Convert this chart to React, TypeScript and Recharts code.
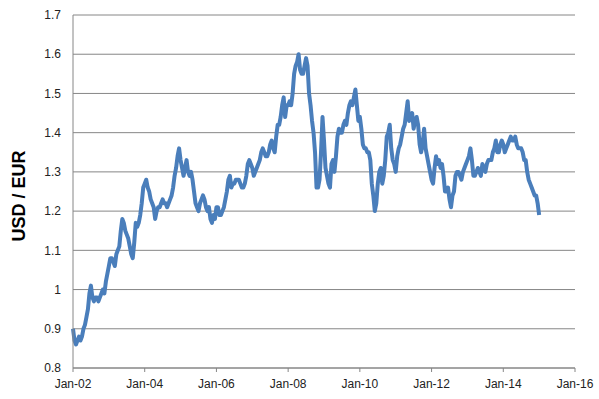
import { CartesianGrid, Line, LineChart, XAxis, YAxis } from "recharts";

// USD per EUR, two readings per month (1st and 16th)
const y2002 = [0.9, 0.87, 0.86, 0.87, 0.88, 0.87, 0.88, 0.9, 0.91, 0.93, 0.95, 0.99, 1.01, 0.98, 0.97, 0.98, 0.98, 0.97, 0.98, 0.99, 1.0, 0.99, 1.02, 1.04];
const y2003 = [1.06, 1.08, 1.08, 1.07, 1.06, 1.09, 1.1, 1.11, 1.15, 1.18, 1.17, 1.15, 1.14, 1.13, 1.11, 1.09, 1.08, 1.12, 1.17, 1.16, 1.17, 1.19, 1.22, 1.26];
const y2004 = [1.27, 1.28, 1.26, 1.25, 1.23, 1.22, 1.21, 1.18, 1.2, 1.21, 1.21, 1.22, 1.23, 1.22, 1.22, 1.21, 1.22, 1.23, 1.24, 1.26, 1.29, 1.31, 1.34, 1.36];
const y2005 = [1.33, 1.31, 1.29, 1.31, 1.33, 1.3, 1.29, 1.3, 1.28, 1.25, 1.22, 1.21, 1.2, 1.22, 1.23, 1.24, 1.23, 1.21, 1.2, 1.21, 1.18, 1.17, 1.19, 1.18];
const y2006 = [1.21, 1.21, 1.19, 1.19, 1.2, 1.21, 1.23, 1.25, 1.28, 1.29, 1.26, 1.27, 1.27, 1.28, 1.28, 1.28, 1.27, 1.26, 1.26, 1.27, 1.29, 1.32, 1.33, 1.32];
const y2007 = [1.31, 1.29, 1.3, 1.31, 1.32, 1.33, 1.35, 1.36, 1.35, 1.34, 1.34, 1.35, 1.37, 1.38, 1.36, 1.35, 1.39, 1.42, 1.42, 1.44, 1.47, 1.49, 1.44, 1.47];
const y2008 = [1.47, 1.48, 1.47, 1.5, 1.55, 1.57, 1.58, 1.6, 1.56, 1.55, 1.55, 1.57, 1.59, 1.57, 1.5, 1.47, 1.43, 1.4, 1.35, 1.26, 1.26, 1.28, 1.35, 1.44];
const y2009 = [1.38, 1.31, 1.29, 1.27, 1.26, 1.32, 1.33, 1.3, 1.34, 1.39, 1.41, 1.4, 1.4, 1.42, 1.43, 1.42, 1.45, 1.47, 1.48, 1.47, 1.49, 1.51, 1.47, 1.43];
const y2010 = [1.44, 1.41, 1.37, 1.36, 1.36, 1.35, 1.35, 1.33, 1.27, 1.24, 1.2, 1.22, 1.27, 1.3, 1.31, 1.27, 1.29, 1.33, 1.39, 1.4, 1.42, 1.36, 1.33, 1.32];
const y2011 = [1.3, 1.34, 1.36, 1.37, 1.39, 1.41, 1.42, 1.45, 1.48, 1.43, 1.44, 1.45, 1.41, 1.43, 1.44, 1.42, 1.37, 1.35, 1.37, 1.41, 1.36, 1.34, 1.32, 1.3];
const y2012 = [1.28, 1.27, 1.31, 1.34, 1.32, 1.33, 1.31, 1.32, 1.29, 1.25, 1.25, 1.26, 1.23, 1.21, 1.24, 1.25, 1.29, 1.3, 1.3, 1.29, 1.28, 1.3, 1.31, 1.32];
const y2013 = [1.33, 1.34, 1.36, 1.33, 1.29, 1.29, 1.3, 1.31, 1.3, 1.29, 1.32, 1.31, 1.3, 1.32, 1.33, 1.33, 1.33, 1.35, 1.36, 1.38, 1.35, 1.35, 1.37, 1.38];
const y2014 = [1.37, 1.35, 1.36, 1.37, 1.38, 1.39, 1.38, 1.38, 1.39, 1.37, 1.36, 1.36, 1.36, 1.35, 1.33, 1.33, 1.3, 1.28, 1.27, 1.26, 1.25, 1.24, 1.24, 1.22];
const lastValue = 1.19; // early Jan 2015

const years = [2002, 2003, 2004, 2005, 2006, 2007, 2008, 2009, 2010, 2011, 2012, 2013, 2014];
const series = [y2002, y2003, y2004, y2005, y2006, y2007, y2008, y2009, y2010, y2011, y2012, y2013, y2014];

const xTicks = [2002, 2004, 2006, 2008, 2010, 2012, 2014, 2016];
const yTicks = [0.8, 0.9, 1.0, 1.1, 1.2, 1.3, 1.4, 1.5, 1.6, 1.7];

const data: { t: number; v: number }[] = [];
years.forEach((yr, k) => {
  series[k].forEach((v, i) => data.push({ t: yr + i / 24, v }));
});
data.push({ t: 2015, v: lastValue });

const font = "'Liberation Sans', Arial, sans-serif";
const axisGray = "#868686";

export default function App() {
  return (
    <div style={{ position: "absolute", left: 0, top: 0, width: 599, height: 399, background: "#fff" }}>
      <LineChart width={599} height={399} data={data} margin={{ top: 15, right: 24, left: 0, bottom: 0 }}>
        <CartesianGrid vertical={false} stroke={axisGray} strokeWidth={1} />
        <XAxis
          dataKey="t"
          type="number"
          domain={[2002, 2016]}
          ticks={xTicks}
          tickFormatter={(t: number) => "Jan-" + String(t % 100).padStart(2, "0")}
          height={31}
          stroke={axisGray}
          tickSize={4}
          tickMargin={7}
          tick={{ fontSize: 12, fill: "#222", fontFamily: font }}
        />
        <YAxis
          type="number"
          domain={[0.8, 1.7]}
          ticks={yTicks}
          tickFormatter={(v: number) => String(Number(v.toFixed(1)))}
          width={73}
          stroke={axisGray}
          tickLine={false}
          tickSize={6}
          tickMargin={6}
          tick={{ fontSize: 12, fill: "#222", fontFamily: font }}
          label={{
            content: () => (
              <text
                x={25}
                y={196}
                transform="rotate(-90 25 196)"
                textAnchor="middle"
                fontSize={18}
                fontWeight="bold"
                fontFamily={font}
                fill="#000"
              >
                USD / EUR
              </text>
            ),
          }}
        />
        <Line type="linear" dataKey="v" stroke="#4A7EBB" strokeWidth={4} strokeLinejoin="round" dot={false} isAnimationActive={false} />
      </LineChart>
    </div>
  );
}
